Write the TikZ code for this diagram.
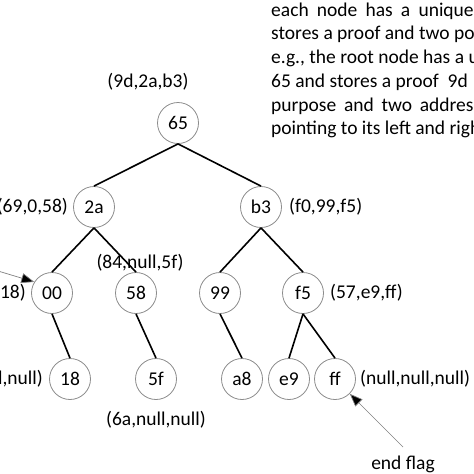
\documentclass[tikz,border=0pt]{standalone}
\usepackage{fontspec}
\setmainfont{Carlito}
\usetikzlibrary{arrows.meta}
\tikzset{
  tnode/.style={circle, draw=black!45, line width=0.8pt, minimum size=41pt, inner sep=0pt, font=\fontsize{19.5}{22}\selectfont},
  lab/.style={inner sep=0pt, font=\fontsize{19.5}{22}\selectfont},
  edge/.style={line width=1.6pt, black},
  pointer/.style={draw=black!50, line width=0.7pt, -{Triangle[length=13pt,width=10pt,fill=black]}},
}
\begin{document}
\begin{tikzpicture}[x=1pt,y=-1pt]
\useasboundingbox (0,0) rectangle (474,474);
\clip (0,0) rectangle (474,474);
% tree nodes
\node[tnode] (n65) at (178,123) {65};
\node[tnode] (n2a) at (94,207) {2a};
\node[tnode] (nb3) at (261,207) {b3};
\node[tnode] (n00) at (52,293) {00};
\node[tnode] (n58) at (136,293) {58};
\node[tnode] (n99) at (220,293) {99};
\node[tnode] (nf5) at (303,293) {f5};
\node[tnode] (n18) at (70,379) {18};
\node[tnode] (n5f) at (156,379) {5f};
\node[tnode] (na8) at (242,379) {a8};
\node[tnode] (ne9) at (289,379) {e9};
\node[tnode] (nff) at (335,379) {ff};
% edges
\draw[edge] (n65.south) -- (n2a.north);
\draw[edge] (n65.south) -- (nb3.north);
\draw[edge] (n2a.south) -- (n00.north);
\draw[edge] (n2a.south) -- (n58.north);
\draw[edge] (nb3.south) -- (n99.north);
\draw[edge] (nb3.south) -- (nf5.north);
\draw[edge] (n00.south) -- (n18.north);
\draw[edge] (n58.south) -- (n5f.north);
\draw[edge] (n99.south) -- (na8.north);
\draw[edge] (nf5.south) -- (ne9.north);
\draw[edge] (nf5.south) -- (nff.north);
% labels
\node[lab] (l65) at (148,82) {(9d,2a,b3)};
\node[lab, anchor=east] (l2a) at (68,207) {(69,0,58)};
\node[lab, anchor=west] (lb3) at (289,207) {(f0,99,f5)};
\node[lab] (l58) at (140,263) {(84,null,5f)};
\node[lab, anchor=east] (l00) at (26,293) {(null,18)};
\node[lab, anchor=east] (l18) at (43,379) {(null,null)};
\node[lab] (l5f) at (156,420) {(6a,null,null)};
\node[lab, anchor=west] (lf5) at (330,293) {(57,e9,ff)};
\node[lab, anchor=west] (lff) at (360,379) {(null,null,null)};
\node[lab] (lend) at (403,464) {end flag};
% pointers
\coordinate (p00) at (-2,271);
\draw[pointer] (p00) -- (n00.148);
\coordinate (pff) at (403,447);
\draw[pointer] (pff) -- (nff.-45);
% description text
\node[lab, anchor=base west] (t1) at (271,16) {\spaceskip=8.2pt\relax each node has a unique};
\node[lab, anchor=base west] (t2) at (271,39.5) {stores a proof and two pointers};
\node[lab, anchor=base west] (t3) at (271,63) {e.g., the root node has a unique};
\node[lab, anchor=base west] (t4) at (271,87.5) {65 and stores a proof\ \ 9d};
\node[lab, anchor=base west] (t5) at (271,111) {\spaceskip=7.7pt\relax purpose and two addresses};
\node[lab, anchor=base west] (t6) at (271,134) {pointing to its left and right};
\end{tikzpicture}
\end{document}
